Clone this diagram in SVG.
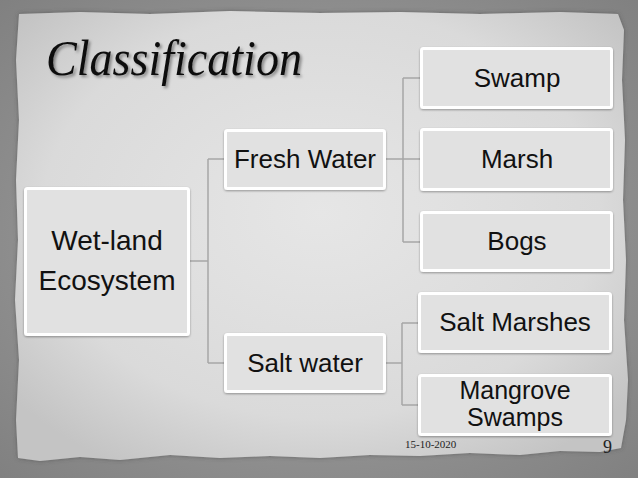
<svg xmlns="http://www.w3.org/2000/svg" width="638" height="478" viewBox="0 0 638 478">
<defs>
<radialGradient id="paper" cx="50%" cy="45%" r="65%">
<stop offset="0" stop-color="#e6e6e6"/>
<stop offset="0.7" stop-color="#dadada"/>
<stop offset="1" stop-color="#c4c4c4"/>
</radialGradient>
<radialGradient id="outer" cx="50%" cy="50%" r="75%">
<stop offset="0" stop-color="#a8a8a8"/>
<stop offset="1" stop-color="#7e7e7e"/>
</radialGradient>
<filter id="sh" x="-10%" y="-10%" width="120%" height="130%">
<feDropShadow dx="0" dy="1" stdDeviation="1.2" flood-color="#000" flood-opacity="0.35"/>
</filter>
<filter id="tsh" x="-5%" y="-10%" width="115%" height="130%">
<feDropShadow dx="2" dy="2" stdDeviation="1.5" flood-color="#000" flood-opacity="0.4"/>
</filter>
<filter id="psh" x="-5%" y="-5%" width="110%" height="110%">
<feDropShadow dx="0" dy="0" stdDeviation="2" flood-color="#444" flood-opacity="0.6"/>
</filter>
</defs>
<style>
.box{fill:#e1e1e1;stroke:#ffffff;stroke-width:3;filter:url(#sh)}
.t{font-family:"Liberation Sans",Arial,sans-serif;font-size:26px;fill:#111;text-anchor:middle}
.r{font-size:28px}
.m{font-size:25px}
.c{fill:none;stroke:#a6a6a6;stroke-width:1.5}
</style>
<rect x="0" y="0" width="638" height="478" fill="url(#outer)"/>
<path filter="url(#psh)" fill="url(#paper)" d="M19,14 L80,12 L150,14 L230,11 L320,13 L400,12 L480,14 L560,12 L618,14 L624,30 L622,80 L625,140 L623,200 L626,260 L624,320 L628,380 L626,420 L621,448 L600,452 L560,451 L520,455 L470,453 L420,456 L370,455 L320,458 L270,456 L220,458 L170,455 L120,460 L80,457 L40,461 L18,458 L16,420 L19,360 L15,300 L18,240 L16,180 L19,120 L16,60 Z"/>
<g id="title">
<text x="46" y="75" font-family="'Liberation Serif',serif" font-style="italic" font-size="50" fill="#111" textLength="256" lengthAdjust="spacingAndGlyphs" filter="url(#tsh)">Classification</text>
</g>
<g id="connectors">
<path class="c" d="M190,261 H208 M208,159 V363 M208,159 H224 M208,363 H224"/>
<path class="c" d="M386,159 H420 M403,78 V242 M403,78 H420 M403,242 H420"/>
<path class="c" d="M386,363 H402 M402,323 V405 M402,323 H420 M402,405 H420"/>
</g>
<g id="wetland">
<rect class="box" x="25.5" y="188.5" width="163" height="146" rx="2"/>
<text class="t r" x="107" y="250">Wet-land</text>
<text class="t r" x="107" y="290">Ecosystem</text>
</g>
<g id="freshwater">
<rect class="box" x="225.5" y="130.5" width="159" height="58" rx="2"/>
<text class="t" x="305" y="168">Fresh Water</text>
</g>
<g id="saltwater">
<rect class="box" x="225.5" y="334.5" width="159" height="57" rx="2"/>
<text class="t" x="305" y="372">Salt water</text>
</g>
<g id="swamp">
<rect class="box" x="421.5" y="48.5" width="190" height="59" rx="2"/>
<text class="t" x="517" y="87">Swamp</text>
</g>
<g id="marsh">
<rect class="box" x="421.5" y="129.5" width="190" height="60" rx="2"/>
<text class="t" x="517" y="168">Marsh</text>
</g>
<g id="bogs">
<rect class="box" x="421.5" y="212.5" width="190" height="58" rx="2"/>
<text class="t" x="517" y="250">Bogs</text>
</g>
<g id="saltmarshes">
<rect class="box" x="419.5" y="293.5" width="191" height="58" rx="2"/>
<text class="t" x="515" y="331">Salt Marshes</text>
</g>
<g id="mangrove">
<rect class="box" x="419.5" y="375.5" width="191" height="59" rx="2"/>
<text class="t m" x="515" y="399">Mangrove</text>
<text class="t m" x="515" y="426">Swamps</text>
</g>
<g id="footer">
<text x="405" y="448" font-family="'Liberation Serif',serif" font-size="11" fill="#222">15-10-2020</text>
<text x="612" y="453" font-family="'Liberation Serif',serif" font-size="18" fill="#222" text-anchor="end">9</text>
</g>
</svg>
